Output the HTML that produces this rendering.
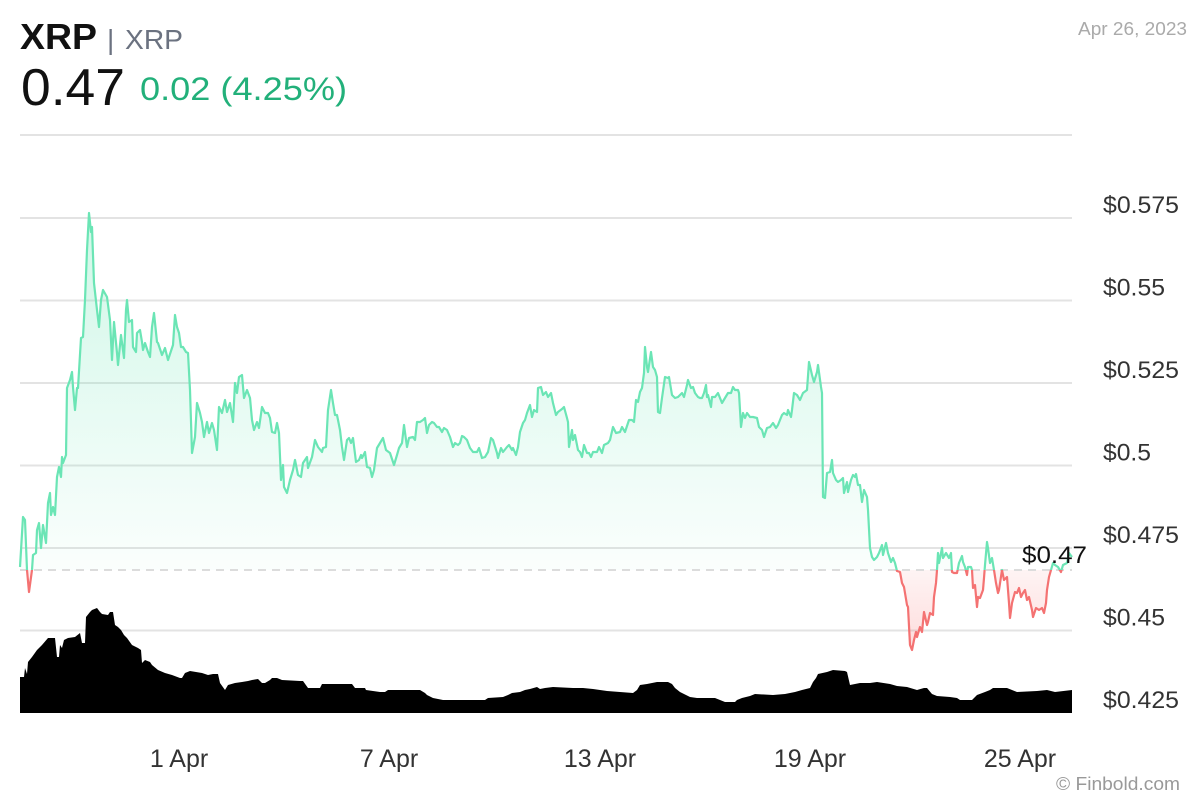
<!DOCTYPE html>
<html><head><meta charset="utf-8"><style>
html,body{margin:0;padding:0;background:#fff;}
svg{display:block;}
text{font-family:"Liberation Sans",Arial,sans-serif;}
</style></head><body>
<svg width="1200" height="800" viewBox="0 0 1200 800" xmlns="http://www.w3.org/2000/svg" xmlns:xlink="http://www.w3.org/1999/xlink">
<defs>
<linearGradient id="gg" gradientUnits="userSpaceOnUse" x1="0" y1="213" x2="0" y2="570">
<stop offset="0" stop-color="#6be5b5" stop-opacity="0.32"/>
<stop offset="1" stop-color="#6be5b5" stop-opacity="0.03"/>
</linearGradient>
<linearGradient id="rg" gradientUnits="userSpaceOnUse" x1="0" y1="570" x2="0" y2="650">
<stop offset="0" stop-color="#f87171" stop-opacity="0.08"/>
<stop offset="1" stop-color="#f87171" stop-opacity="0.25"/>
</linearGradient>
<clipPath id="above"><rect x="0" y="0" width="1200" height="570"/></clipPath>
<clipPath id="below"><rect x="0" y="570" width="1200" height="230"/></clipPath>
<path id="pf" d="M20,570 L20,567 L23,517 L25,520 L27,570 L29,592 L32,570 L33,555 L36,553 L37,530 L39,523 L41,548 L43,525 L46,543 L48,503 L50,493 L51,515 L53,507 L55,515 L57,477 L59,467 L61,477 L62,457 L63,463 L66,455 L67,388 L70,380 L72,372 L73,387 L75,410 L77,388 L78,388 L81,338 L83,337 L85,300 L87,250 L89,213 L91,232 L92,227 L94,283 L97,310 L99,327 L101,300 L103,290 L107,297 L110,320 L112,360 L114,322 L117,353 L118,365 L121,335 L124,358 L126,310 L127,300 L129,322 L132,320 L133,347 L136,352 L137,333 L140,330 L142,342 L143,350 L145,343 L148,352 L150,357 L152,327 L154,313 L157,342 L158,343 L162,355 L165,348 L168,360 L173,345 L175,315 L177,327 L179,333 L181,347 L183,347 L186,352 L188,353 L190,390 L192,453 L195,437 L197,403 L200,413 L202,422 L204,437 L207,422 L209,433 L212,423 L214,430 L217,450 L219,407 L222,413 L225,400 L227,412 L230,403 L233,422 L235,383 L237,393 L239,377 L242,375 L244,398 L247,390 L250,398 L252,420 L254,430 L257,422 L259,428 L262,407 L265,413 L268,413 L270,418 L272,432 L275,433 L277,423 L279,433 L281,480 L283,465 L284,487 L287,493 L290,480 L293,470 L295,460 L298,475 L301,477 L303,463 L307,457 L308,468 L312,457 L315,440 L318,447 L322,452 L323,448 L326,447 L328,410 L331,390 L333,403 L335,415 L337,415 L340,430 L342,447 L344,460 L347,440 L349,438 L351,443 L353,438 L356,462 L359,460 L361,455 L362,458 L365,452 L367,467 L370,468 L372,477 L374,470 L377,448 L380,443 L383,438 L386,450 L390,453 L394,465 L397,455 L399,448 L402,443 L404,425 L407,447 L409,438 L413,437 L415,440 L417,422 L420,422 L423,420 L425,418 L427,433 L429,425 L432,422 L434,423 L437,427 L439,427 L442,432 L444,428 L447,430 L450,437 L453,447 L455,443 L458,445 L460,443 L462,436 L464,437 L467,440 L470,448 L473,452 L477,452 L479,448 L482,458 L485,457 L488,452 L491,438 L493,440 L497,453 L498,458 L501,448 L503,452 L507,447 L509,445 L512,450 L513,448 L516,455 L518,447 L520,432 L523,423 L525,420 L527,413 L530,405 L532,417 L534,410 L537,412 L538,388 L541,387 L543,395 L546,392 L548,397 L551,393 L553,403 L556,415 L558,412 L562,409 L564,407 L567,418 L568,422 L569,447 L572,430 L573,440 L575,435 L578,450 L580,452 L582,457 L584,445 L587,453 L589,453 L591,457 L593,452 L597,452 L599,447 L602,453 L604,445 L608,443 L610,440 L613,427 L616,433 L620,432 L622,427 L625,432 L629,420 L632,420 L634,422 L636,400 L638,402 L640,392 L642,388 L644,373 L645,347 L647,367 L648,372 L651,352 L653,367 L655,370 L657,377 L658,412 L660,413 L662,398 L665,377 L668,378 L669,377 L672,395 L675,398 L678,397 L682,393 L684,397 L687,385 L688,380 L691,388 L693,387 L695,393 L698,397 L700,398 L702,398 L704,393 L706,385 L707,397 L708,395 L711,407 L712,397 L715,397 L718,393 L720,398 L722,403 L725,398 L728,393 L731,393 L733,387 L735,390 L738,390 L739,393 L741,427 L743,413 L745,418 L747,413 L750,417 L753,417 L757,418 L759,427 L762,430 L764,437 L767,428 L770,427 L773,423 L776,428 L778,425 L782,415 L784,413 L787,415 L788,410 L791,417 L792,410 L794,393 L797,395 L800,400 L803,393 L807,390 L809,362 L812,375 L814,382 L817,372 L818,365 L821,387 L822,393 L823,497 L825,498 L827,473 L830,472 L832,460 L833,473 L836,480 L838,482 L841,480 L843,478 L844,493 L847,482 L848,492 L851,480 L853,475 L855,477 L856,474 L858,485 L860,485 L862,502 L864,490 L867,497 L868,510 L870,548 L872,557 L874,560 L877,557 L879,553 L882,545 L883,555 L886,543 L888,553 L891,562 L893,558 L895,563 L897,571 L900,572 L902,583 L904,587 L907,605 L908,607 L910,645 L912,650 L914,640 L916,632 L917,637 L920,627 L922,632 L924,612 L927,625 L928,622 L930,613 L933,615 L934,597 L936,583 L937,570 L938,553 L939,563 L942,548 L943,558 L946,553 L949,558 L951,553 L952,572 L954,573 L957,573 L959,563 L962,556 L963,562 L965,567 L967,575 L968,567 L971,567 L972,570 L973,588 L975,585 L977,607 L978,597 L980,598 L983,590 L984,578 L985,565 L987,542 L988,548 L990,563 L992,558 L994,570 L996,583 L998,593 L999,590 L1002,570 L1004,580 L1007,577 L1009,603 L1010,618 L1012,603 L1015,592 L1017,593 L1019,588 L1021,597 L1023,593 L1025,590 L1027,600 L1029,597 L1032,610 L1033,617 L1036,608 L1039,610 L1042,608 L1044,613 L1046,603 L1047,590 L1049,577 L1051,570 L1053,563 L1055,565 L1058,567 L1061,572 L1063,565 L1067,563 L1069,553 L1072,557 L1072,570 Z"/>
<path id="pl" d="M20,567 L23,517 L25,520 L27,570 L29,592 L32,570 L33,555 L36,553 L37,530 L39,523 L41,548 L43,525 L46,543 L48,503 L50,493 L51,515 L53,507 L55,515 L57,477 L59,467 L61,477 L62,457 L63,463 L66,455 L67,388 L70,380 L72,372 L73,387 L75,410 L77,388 L78,388 L81,338 L83,337 L85,300 L87,250 L89,213 L91,232 L92,227 L94,283 L97,310 L99,327 L101,300 L103,290 L107,297 L110,320 L112,360 L114,322 L117,353 L118,365 L121,335 L124,358 L126,310 L127,300 L129,322 L132,320 L133,347 L136,352 L137,333 L140,330 L142,342 L143,350 L145,343 L148,352 L150,357 L152,327 L154,313 L157,342 L158,343 L162,355 L165,348 L168,360 L173,345 L175,315 L177,327 L179,333 L181,347 L183,347 L186,352 L188,353 L190,390 L192,453 L195,437 L197,403 L200,413 L202,422 L204,437 L207,422 L209,433 L212,423 L214,430 L217,450 L219,407 L222,413 L225,400 L227,412 L230,403 L233,422 L235,383 L237,393 L239,377 L242,375 L244,398 L247,390 L250,398 L252,420 L254,430 L257,422 L259,428 L262,407 L265,413 L268,413 L270,418 L272,432 L275,433 L277,423 L279,433 L281,480 L283,465 L284,487 L287,493 L290,480 L293,470 L295,460 L298,475 L301,477 L303,463 L307,457 L308,468 L312,457 L315,440 L318,447 L322,452 L323,448 L326,447 L328,410 L331,390 L333,403 L335,415 L337,415 L340,430 L342,447 L344,460 L347,440 L349,438 L351,443 L353,438 L356,462 L359,460 L361,455 L362,458 L365,452 L367,467 L370,468 L372,477 L374,470 L377,448 L380,443 L383,438 L386,450 L390,453 L394,465 L397,455 L399,448 L402,443 L404,425 L407,447 L409,438 L413,437 L415,440 L417,422 L420,422 L423,420 L425,418 L427,433 L429,425 L432,422 L434,423 L437,427 L439,427 L442,432 L444,428 L447,430 L450,437 L453,447 L455,443 L458,445 L460,443 L462,436 L464,437 L467,440 L470,448 L473,452 L477,452 L479,448 L482,458 L485,457 L488,452 L491,438 L493,440 L497,453 L498,458 L501,448 L503,452 L507,447 L509,445 L512,450 L513,448 L516,455 L518,447 L520,432 L523,423 L525,420 L527,413 L530,405 L532,417 L534,410 L537,412 L538,388 L541,387 L543,395 L546,392 L548,397 L551,393 L553,403 L556,415 L558,412 L562,409 L564,407 L567,418 L568,422 L569,447 L572,430 L573,440 L575,435 L578,450 L580,452 L582,457 L584,445 L587,453 L589,453 L591,457 L593,452 L597,452 L599,447 L602,453 L604,445 L608,443 L610,440 L613,427 L616,433 L620,432 L622,427 L625,432 L629,420 L632,420 L634,422 L636,400 L638,402 L640,392 L642,388 L644,373 L645,347 L647,367 L648,372 L651,352 L653,367 L655,370 L657,377 L658,412 L660,413 L662,398 L665,377 L668,378 L669,377 L672,395 L675,398 L678,397 L682,393 L684,397 L687,385 L688,380 L691,388 L693,387 L695,393 L698,397 L700,398 L702,398 L704,393 L706,385 L707,397 L708,395 L711,407 L712,397 L715,397 L718,393 L720,398 L722,403 L725,398 L728,393 L731,393 L733,387 L735,390 L738,390 L739,393 L741,427 L743,413 L745,418 L747,413 L750,417 L753,417 L757,418 L759,427 L762,430 L764,437 L767,428 L770,427 L773,423 L776,428 L778,425 L782,415 L784,413 L787,415 L788,410 L791,417 L792,410 L794,393 L797,395 L800,400 L803,393 L807,390 L809,362 L812,375 L814,382 L817,372 L818,365 L821,387 L822,393 L823,497 L825,498 L827,473 L830,472 L832,460 L833,473 L836,480 L838,482 L841,480 L843,478 L844,493 L847,482 L848,492 L851,480 L853,475 L855,477 L856,474 L858,485 L860,485 L862,502 L864,490 L867,497 L868,510 L870,548 L872,557 L874,560 L877,557 L879,553 L882,545 L883,555 L886,543 L888,553 L891,562 L893,558 L895,563 L897,571 L900,572 L902,583 L904,587 L907,605 L908,607 L910,645 L912,650 L914,640 L916,632 L917,637 L920,627 L922,632 L924,612 L927,625 L928,622 L930,613 L933,615 L934,597 L936,583 L937,570 L938,553 L939,563 L942,548 L943,558 L946,553 L949,558 L951,553 L952,572 L954,573 L957,573 L959,563 L962,556 L963,562 L965,567 L967,575 L968,567 L971,567 L972,570 L973,588 L975,585 L977,607 L978,597 L980,598 L983,590 L984,578 L985,565 L987,542 L988,548 L990,563 L992,558 L994,570 L996,583 L998,593 L999,590 L1002,570 L1004,580 L1007,577 L1009,603 L1010,618 L1012,603 L1015,592 L1017,593 L1019,588 L1021,597 L1023,593 L1025,590 L1027,600 L1029,597 L1032,610 L1033,617 L1036,608 L1039,610 L1042,608 L1044,613 L1046,603 L1047,590 L1049,577 L1051,570 L1053,563 L1055,565 L1058,567 L1061,572 L1063,565 L1067,563 L1069,553 L1072,557"/>
</defs>
<rect width="1200" height="800" fill="#fff"/>

<!-- header -->
<text x="20" y="49" font-size="36" font-weight="bold" fill="#111" textLength="77" lengthAdjust="spacingAndGlyphs">XRP</text>
<text x="107" y="49" font-size="28" fill="#6b7280">|</text>
<text x="125" y="49" font-size="28" fill="#6b7280" textLength="58" lengthAdjust="spacingAndGlyphs">XRP</text>
<text x="21" y="105" font-size="52" fill="#111" textLength="104" lengthAdjust="spacingAndGlyphs">0.47</text>
<text x="140" y="100" font-size="32" fill="#22b07a" textLength="207" lengthAdjust="spacingAndGlyphs">0.02 (4.25%)</text>
<text x="1078" y="35" font-size="18" fill="#aaaaaa" textLength="109" lengthAdjust="spacingAndGlyphs">Apr 26, 2023</text>

<!-- grid -->
<g stroke="#e3e3e3" stroke-width="2">
<line x1="20" y1="135" x2="1072" y2="135"/>
<line x1="20" y1="218" x2="1072" y2="218"/>
<line x1="20" y1="300.5" x2="1072" y2="300.5"/>
<line x1="20" y1="383" x2="1072" y2="383"/>
<line x1="20" y1="465.5" x2="1072" y2="465.5"/>
<line x1="20" y1="548" x2="1072" y2="548"/>
<line x1="20" y1="630.5" x2="1072" y2="630.5"/>
</g>

<!-- y labels -->
<g font-size="24" fill="#333">
<text x="1103" y="213" textLength="76" lengthAdjust="spacingAndGlyphs">$0.575</text>
<text x="1103" y="295.5" textLength="62" lengthAdjust="spacingAndGlyphs">$0.55</text>
<text x="1103" y="378" textLength="76" lengthAdjust="spacingAndGlyphs">$0.525</text>
<text x="1103" y="460.5" textLength="48" lengthAdjust="spacingAndGlyphs">$0.5</text>
<text x="1103" y="543" textLength="76" lengthAdjust="spacingAndGlyphs">$0.475</text>
<text x="1103" y="625.5" textLength="62" lengthAdjust="spacingAndGlyphs">$0.45</text>
<text x="1103" y="708" textLength="76" lengthAdjust="spacingAndGlyphs">$0.425</text>
</g>

<!-- x labels -->
<g font-size="25" fill="#333" text-anchor="middle">
<text x="179" y="767">1 Apr</text>
<text x="389" y="767">7 Apr</text>
<text x="600" y="767">13 Apr</text>
<text x="810" y="767">19 Apr</text>
<text x="1020" y="767">25 Apr</text>
</g>
<text x="1056" y="790" font-size="18" fill="#999" textLength="124" lengthAdjust="spacingAndGlyphs">© Finbold.com</text>

<!-- price fills -->
<use href="#pf" xlink:href="#pf" clip-path="url(#above)" fill="url(#gg)"/>
<use href="#pf" xlink:href="#pf" clip-path="url(#below)" fill="url(#rg)"/>

<!-- dashed baseline -->
<line x1="20" y1="570" x2="1072" y2="570" stroke="#dcdcdc" stroke-width="2" stroke-dasharray="8,6"/>

<!-- price line -->
<use href="#pl" xlink:href="#pl" clip-path="url(#above)" fill="none" stroke="#6be5b5" stroke-width="2.2" stroke-linejoin="round"/>
<use href="#pl" xlink:href="#pl" clip-path="url(#below)" fill="none" stroke="#f47272" stroke-width="2.2" stroke-linejoin="round"/>

<!-- volume -->
<path fill="#000" d="M20,713 L20,677 L24,677 L25,668 L27,674 L28,662 L32,657 L37,650 L42,645 L48,638 L55,638 L57,657 L59,657 L60,645 L62,648 L64,640 L68,638 L75,637 L80,633 L82,643 L85,643 L86,617 L90,612 L92,610 L97,608 L100,612 L102,614 L108,615 L110,612 L113,612 L115,625 L118,627 L121,630 L124,635 L127,638 L132,645 L138,648 L141,650 L142,663 L145,660 L150,662 L152,665 L158,670 L165,673 L172,675 L180,678 L182,678 L185,673 L190,671 L196,672 L202,673 L208,675 L213,674 L218,674 L220,683 L225,690 L228,685 L235,683 L242,682 L248,681 L252,680 L258,679 L262,683 L265,683 L270,680 L272,678 L277,678 L282,680 L300,681 L303,681 L308,688 L320,688 L322,684 L352,684 L355,688 L365,688 L366,690 L380,692 L385,692 L388,690 L420,690 L425,693 L427,695 L433,698 L443,700 L485,700 L488,698 L503,697 L508,695 L512,693 L520,692 L525,690 L530,689 L537,687 L540,689 L545,688 L553,687 L573,688 L583,688 L593,689 L600,690 L607,691 L620,692 L633,693 L637,690 L640,685 L647,684 L657,682 L668,682 L672,684 L675,688 L680,692 L686,695 L690,697 L697,698 L715,698 L720,700 L725,702 L735,702 L737,700 L742,698 L750,696 L755,694 L773,695 L785,694 L795,692 L802,690 L810,688 L813,682 L816,678 L818,674 L827,672 L833,670 L845,671 L847,672 L850,685 L855,684 L860,683 L870,683 L877,682 L890,684 L897,686 L907,687 L917,690 L924,688 L927,688 L932,694 L937,696 L950,697 L957,698 L960,700 L972,700 L977,695 L985,692 L990,690 L993,688 L1007,688 L1012,690 L1017,692 L1037,691 L1047,690 L1055,692 L1072,690 L1072,713 Z"/>

<!-- last price label -->
<text x="1022" y="563" font-size="24" fill="#111" textLength="65" lengthAdjust="spacingAndGlyphs">$0.47</text>
</svg>
</body></html>
